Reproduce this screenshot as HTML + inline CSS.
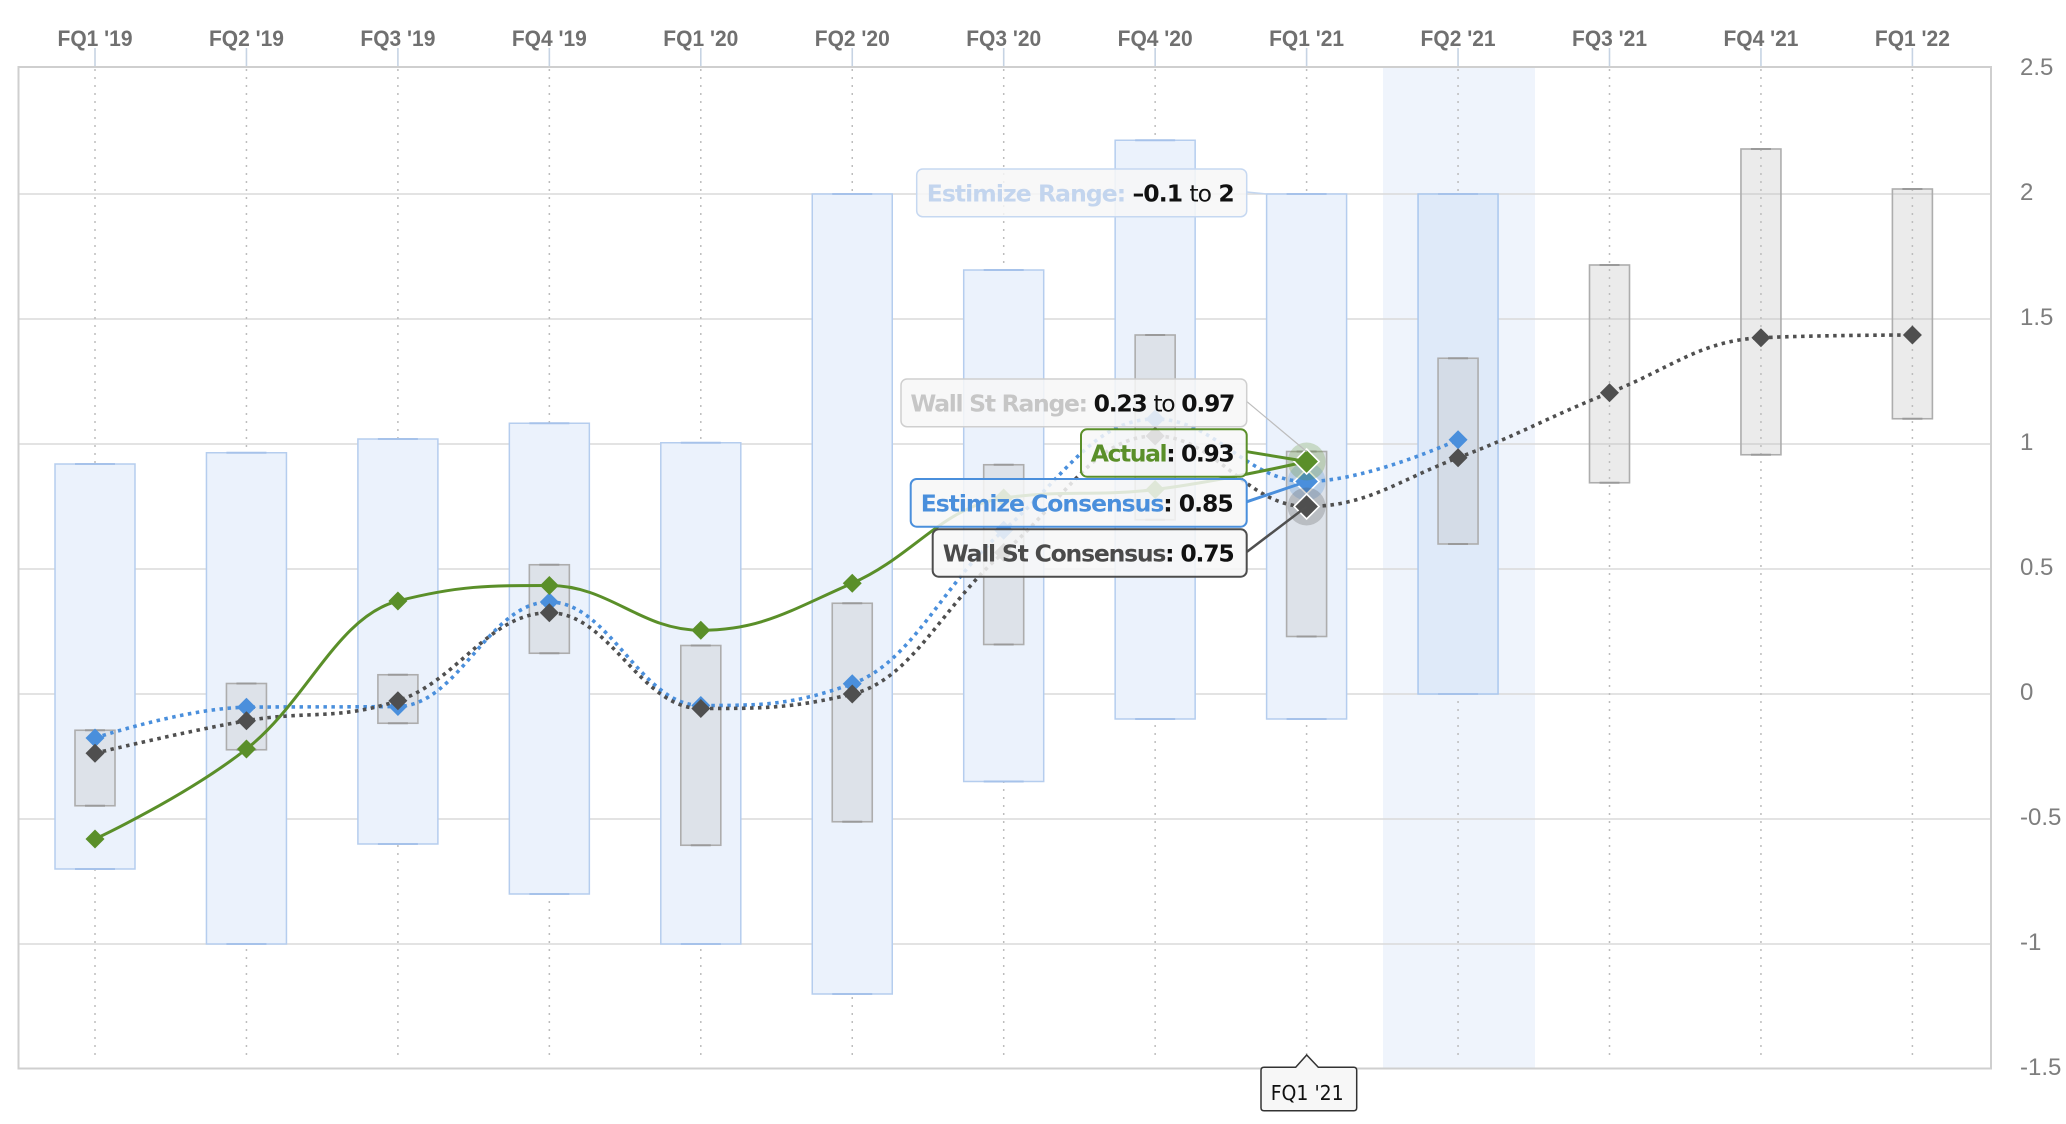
<!DOCTYPE html>
<html>
<head>
<meta charset="utf-8">
<style>
  html, body { margin: 0; padding: 0; background: #ffffff; }
  svg { display: block; }
  .cat { font-family: "Liberation Sans", sans-serif; font-weight: bold; font-size: 22px; fill: #707070; }
  .ylab { font-family: "Liberation Sans", sans-serif; font-size: 24px; fill: #7e7e7e; }
  .tt { font-family: "DejaVu Sans", "Liberation Sans", sans-serif; font-weight: bold; font-size: 23.5px; fill: #111; }
  .reg { font-weight: normal; }
</style>
</head>
<body>
<svg id="chart" width="2066" height="1124" viewBox="0 0 2066 1124" xmlns="http://www.w3.org/2000/svg">
  <rect x="0" y="0" width="2066" height="1124" fill="#ffffff"/>
  <rect x="1383" y="67" width="152" height="1001" fill="#eff4fc"/>
  <g id="grid"></g>
  <rect x="18.5" y="67" width="1972.5" height="1001.5" fill="none" stroke="#cfcfcf" stroke-width="2"/>
  <g id="labels"></g>
  <g id="boxes"></g>
  <g id="series"></g>

  <line x1="1246.7" y1="192" x2="1266.7" y2="194" stroke="#c3d6f0" stroke-width="1.5"/>
  <line x1="1247" y1="401.7" x2="1306.6" y2="451.5" stroke="#bdbdbd" stroke-width="1.2"/>
  <line x1="1247" y1="451.7" x2="1306.6" y2="461.5" stroke="#5a8f29" stroke-width="3"/>
  <line x1="1247" y1="501.7" x2="1306.6" y2="481.5" stroke="#4a8fdc" stroke-width="3"/>
  <line x1="1247" y1="551.7" x2="1306.6" y2="506.5" stroke="#505050" stroke-width="2.5"/>

  <rect x="916.7" y="169" width="330" height="47.7" rx="6" fill="rgba(247,247,247,0.85)" stroke="#c6d8f1" stroke-width="1.5"/>
  <text class="tt" x="926.7" y="201.7" textLength="308" lengthAdjust="spacing"><tspan fill="#c3d5ee">Estimize Range:</tspan> –0.1 <tspan class="reg">to</tspan> 2</text>

  <rect x="901" y="379" width="345.7" height="47.7" rx="6" fill="rgba(247,247,247,0.85)" stroke="#cfcfcf" stroke-width="1.5"/>
  <text class="tt" x="910.4" y="411.7" textLength="325" lengthAdjust="spacing"><tspan fill="#c6c6c6">Wall St Range:</tspan> 0.23 <tspan class="reg">to</tspan> 0.97</text>

  <rect x="1081" y="429.3" width="165.7" height="47.4" rx="6" fill="rgba(247,247,247,0.85)" stroke="#5a8f29" stroke-width="2"/>
  <text class="tt" x="1090.7" y="461.5" textLength="144" lengthAdjust="spacing"><tspan fill="#5a8f29">Actual</tspan>: 0.93</text>

  <rect x="910.7" y="479" width="336" height="47.7" rx="6" fill="rgba(247,247,247,0.85)" stroke="#4a8fdc" stroke-width="2"/>
  <text class="tt" x="920.7" y="511.7" textLength="313" lengthAdjust="spacing"><tspan fill="#4a8fdc">Estimize Consensus</tspan>: 0.85</text>

  <rect x="932.7" y="529.3" width="314" height="47.4" rx="6" fill="rgba(247,247,247,0.85)" stroke="#4d4d4d" stroke-width="2"/>
  <text class="tt" x="942.7" y="561.7" textLength="292" lengthAdjust="spacing"><tspan fill="#4a4a4a">Wall St Consensus</tspan>: 0.75</text>

  <path d="M1264,1067.3 H1295.7 L1306.7,1055 L1318.3,1067.3 H1353.7 Q1356.7,1067.3 1356.7,1070.3 V1107.7 Q1356.7,1110.7 1353.7,1110.7 H1264 Q1261,1110.7 1261,1107.7 V1070.3 Q1261,1067.3 1264,1067.3 Z" fill="#f7f7f7" stroke="#333333" stroke-width="1.5"/>
  <text x="1270.7" y="1100" font-family="DejaVu Sans, Liberation Sans, sans-serif" font-size="20" fill="#111" textLength="73" lengthAdjust="spacingAndGlyphs">FQ1 '21</text>
</svg>

<script>
(function(){
  var X = function(i){ return 95 + 151.45*i; };
  var Y = function(v){ return 694 - 250*v; };
  var cats = ["FQ1 '19","FQ2 '19","FQ3 '19","FQ4 '19","FQ1 '20","FQ2 '20","FQ3 '20","FQ4 '20","FQ1 '21","FQ2 '21","FQ3 '21","FQ4 '21","FQ1 '22"];

  var g = '';
  [2,1.5,1,0.5,0,-0.5,-1].forEach(function(v){
    g += '<line x1="18.5" x2="1991" y1="'+Y(v)+'" y2="'+Y(v)+'" stroke="#dadada" stroke-width="1.5"/>';
  });
  for (var i=0;i<cats.length;i++){
    var x = X(i);
    g += '<line x1="'+x+'" x2="'+x+'" y1="69" y2="1061" stroke="#bdbdbd" stroke-width="1.5" stroke-dasharray="2 6"/>';
    g += '<line x1="'+x+'" x2="'+x+'" y1="48" y2="67" stroke="#c6d3e3" stroke-width="1.6"/>';
  }
  document.getElementById('grid').innerHTML = g;

  var l = '';
  for (var i=0;i<cats.length;i++){
    l += '<text class="cat" x="'+X(i)+'" y="46" text-anchor="middle" textLength="75" lengthAdjust="spacingAndGlyphs">'+cats[i]+'</text>';
  }
  var yl = [["2.5",2.5],["2",2],["1.5",1.5],["1",1],["0.5",0.5],["0",0],["-0.5",-0.5],["-1",-1],["-1.5",-1.5]];
  yl.forEach(function(a){
    l += '<text class="ylab" x="2020" y="'+(Y(a[1])+6)+'">'+a[0]+'</text>';
  });
  document.getElementById('labels').innerHTML = l;

  var estR = [[-0.70,0.92],[-1.0,0.965],[-0.6,1.02],[-0.8,1.083],[-1.0,1.005],[-1.2,2.0],[-0.35,1.696],[-0.1,2.215],[-0.1,2.0],[0,2.0]];
  var wsR = [[-0.447,-0.145],[-0.223,0.042],[-0.117,0.077],[0.163,0.517],[-0.605,0.194],[-0.511,0.363],[0.198,0.917],[0.697,1.436],[0.23,0.97],[0.6,1.343],[0.845,1.716],[0.957,2.18],[1.101,2.02]];
  var b = '';
  estR.forEach(function(r,i){
    var x = X(i), yt = Y(r[1]), yb = Y(r[0]);
    var fill = (i===9) ? '#dfeaf9' : '#ebf2fc';
    var st = (i===9) ? '#aac7ee' : '#b5cdee';
    b += '<rect x="'+(x-40)+'" y="'+yt+'" width="80" height="'+(yb-yt)+'" fill="'+fill+'" stroke="'+st+'" stroke-width="1.5"/>';
    b += '<line x1="'+(x-20)+'" x2="'+(x+20)+'" y1="'+yt+'" y2="'+yt+'" stroke="#a6c2ea" stroke-width="2"/>';
    b += '<line x1="'+(x-20)+'" x2="'+(x+20)+'" y1="'+yb+'" y2="'+yb+'" stroke="#a6c2ea" stroke-width="2"/>';
  });
  wsR.forEach(function(r,i){
    var x = X(i), yt = Y(r[1]), yb = Y(r[0]);
    b += '<rect x="'+(x-20)+'" y="'+yt+'" width="40" height="'+(yb-yt)+'" fill="rgba(190,190,190,0.3)" stroke="#adadad" stroke-width="1.6"/>';
    b += '<line x1="'+(x-10)+'" x2="'+(x+10)+'" y1="'+yt+'" y2="'+yt+'" stroke="#9a9a9a" stroke-width="2"/>';
    b += '<line x1="'+(x-10)+'" x2="'+(x+10)+'" y1="'+yb+'" y2="'+yb+'" stroke="#9a9a9a" stroke-width="2"/>';
  });
  document.getElementById('boxes').innerHTML = b;

  function spline(vals){
    var p = vals.map(function(v,i){ return [X(i), Y(v)]; });
    var n = p.length, L = [], R = [];
    for (var i=0;i<n;i++){
      var px=p[i][0], py=p[i][1];
      if (i>0 && i<n-1){
        var lx=p[i-1][0], ly=p[i-1][1], nx=p[i+1][0], ny=p[i+1][1];
        var lcx=(1.5*px+lx)/2.5, lcy=(1.5*py+ly)/2.5, rcx=(1.5*px+nx)/2.5, rcy=(1.5*py+ny)/2.5;
        if (rcx!==lcx){ var c=((rcy-lcy)*(rcx-px))/(rcx-lcx)+py-rcy; lcy+=c; rcy+=c; }
        if (lcy>ly && lcy>py){ lcy=Math.max(ly,py); rcy=2*py-lcy; }
        else if (lcy<ly && lcy<py){ lcy=Math.min(ly,py); rcy=2*py-lcy; }
        if (rcy>ny && rcy>py){ rcy=Math.max(ny,py); lcy=2*py-rcy; }
        else if (rcy<ny && rcy<py){ rcy=Math.min(ny,py); lcy=2*py-rcy; }
        L[i]=[lcx,lcy]; R[i]=[rcx,rcy];
      } else { L[i]=[px,py]; R[i]=[px,py]; }
    }
    var d='M'+p[0][0]+' '+p[0][1];
    for (var j=1;j<n;j++){
      d+=' C'+R[j-1][0]+' '+R[j-1][1]+' '+L[j][0]+' '+L[j][1]+' '+p[j][0]+' '+p[j][1];
    }
    return d;
  }
  function diamond(x,y,r,fill,extra){
    return '<path d="M'+x+' '+(y-r)+' L'+(x+r)+' '+y+' L'+x+' '+(y+r)+' L'+(x-r)+' '+y+' Z" fill="'+fill+'" '+(extra||'')+'/>';
  }

  var actual = [-0.58,-0.22,0.372,0.434,0.255,0.443,0.784,0.818,0.93];
  var est = [-0.176,-0.053,-0.05,0.368,-0.046,0.041,0.655,1.10,0.85,1.017];
  var ws = [-0.237,-0.107,-0.027,0.325,-0.058,0.0,0.566,1.032,0.75,0.945,1.205,1.425,1.436];

  var s = '';
  function series(vals, color, dash, width, halo){
    var o = '<path d="'+spline(vals)+'" fill="none" stroke="'+color+'" stroke-width="'+width+'"'+(dash?' stroke-dasharray="'+dash+'"':'')+' stroke-linejoin="round"/>';
    vals.forEach(function(v,i){
      if (i===8){
        o += '<circle cx="'+X(i)+'" cy="'+Y(v)+'" r="19" fill="'+halo+'"/>';
        o += diamond(X(i),Y(v),12.5,color,'stroke="#ffffff" stroke-width="1.6"');
      } else {
        o += diamond(X(i),Y(v),9.5,color);
      }
    });
    return o;
  }
  s += series(est, '#4a8fdc', '3.5 4.5', 3.6, 'rgba(74,143,220,0.25)');
  s += series(ws, '#4f4f4f', '3.5 4.5', 3.6, 'rgba(80,80,80,0.25)');
  s += series(actual, '#5a8f29', null, 3, 'rgba(90,143,41,0.25)');
  document.getElementById('series').innerHTML = s;
})();
</script>
</body>
</html>
